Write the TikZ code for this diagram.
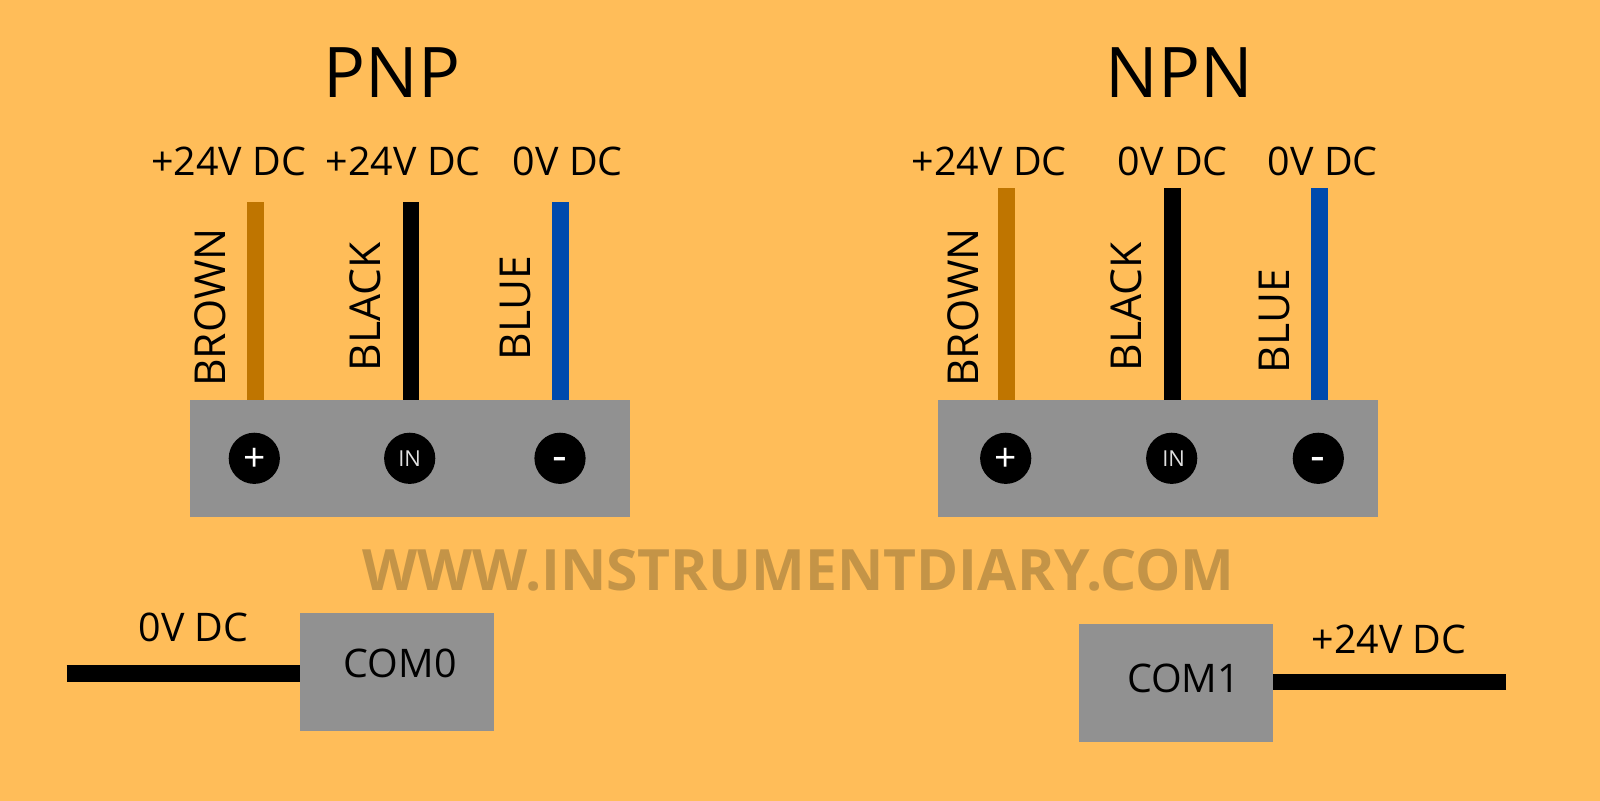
\documentclass[tikz,border=0pt]{standalone}
\usepackage{fontspec}
\setmainfont{Open Sans}
\definecolor{bgc}{HTML}{FFBD59}
\definecolor{greyc}{HTML}{919191}
\definecolor{brownc}{HTML}{BF7500}
\definecolor{bluec}{HTML}{004AAD}
\definecolor{markc}{HTML}{C49447}
\tikzset{
  blockbox/.style={fill=greyc,inner sep=0pt,outer sep=0pt,minimum width=#1},
  wire/.style={line width=8.4pt,line cap=butt},
  lbl/.style={anchor=base,inner sep=0pt,font=\fontsize{19.7}{22}\selectfont,text=black},
  vlbl/.style={lbl,rotate=90,font=\fontsize{21.3}{24}\selectfont},
  titlelbl/.style={anchor=base,inner sep=0pt,font=\fontsize{34.9}{40}\selectfont},
  term/.style={circle,fill=black,minimum size=25.6pt,inner sep=0pt,text=white,font=\fontsize{19.5}{22}\selectfont},
  termin/.style={term,text=white!88!black,font=\fontsize{11}{12}\selectfont},
  termminus/.style={term,font=\fontsize{23}{24}\selectfont},
}
\begin{document}
\begin{tikzpicture}[x=0.5pt,y=-0.5pt]
\fill[bgc,overlay] (-10,-10) rectangle (1610,810);
\useasboundingbox (0,0) rectangle (1600,800);
% titles
\node[titlelbl] (tpnp) at (392,97.5) {PNP};
\node[titlelbl] (tnpn) at (1179.6,97.5) {NPN};
% blocks
\node[blockbox=220pt,minimum height=58.5pt] (pnpbox) at (409.7,458.5) {};
\node[blockbox=220pt,minimum height=58.5pt] (npnbox) at (1158.2,458.5) {};
\node[blockbox=97pt,minimum height=59pt] (com0) at (396.7,672) {};
\node[blockbox=97pt,minimum height=59pt] (com1) at (1175.7,682.5) {};
% wire ends
\coordinate (p1) at (255.5,202);
\coordinate (p2) at (411,202);
\coordinate (p3) at (560.8,202);
\coordinate (n1) at (1006.7,188.3);
\coordinate (n2) at (1172.5,188.3);
\coordinate (n3) at (1319.2,188.3);
\coordinate (c0) at (66.7,673.2);
\coordinate (c1) at (1506,682);
% wires
\draw[wire,brownc] (p1) -- (p1 |- pnpbox.north);
\draw[wire,black] (p2) -- (p2 |- pnpbox.north);
\draw[wire,bluec] (p3) -- (p3 |- pnpbox.north);
\draw[wire,brownc] (n1) -- (n1 |- npnbox.north);
\draw[wire,black] (n2) -- (n2 |- npnbox.north);
\draw[wire,bluec] (n3) -- (n3 |- npnbox.north);
\draw[wire,black] (c0) -- (c0 -| com0.west);
\draw[wire,black] (c1) -- (c1 -| com1.east);
% supply labels
\node[lbl] (lp1) at (228.7,175) {+24V DC};
\node[lbl] (lp2) at (403.3,175) {+24V DC};
\node[lbl] (lp3) at (567.8,175) {0V DC};
\node[lbl] (ln1) at (989.3,175) {+24V DC};
\node[lbl] (ln2) at (1172.7,175) {0V DC};
\node[lbl] (ln3) at (1322.7,175) {0V DC};
% colour labels
\node[vlbl] (vp1) at (225,307.5) {BROWN};
\node[vlbl] (vp2) at (380,307) {BLACK};
\node[vlbl] (vp3) at (530.7,308) {BLUE};
\node[vlbl] (vn1) at (978.7,307.5) {BROWN};
\node[vlbl] (vn2) at (1141.3,307) {BLACK};
\node[vlbl] (vn3) at (1289.3,321) {BLUE};
% terminals
\node[term] (t1) at (254.3,458.3) {\smash{\raisebox{-6.6pt}{+}}};
\node[termin] (t2) at (409.7,458.3) {IN};
\node[termminus] (t3) at (560,458.3) {\smash{\raisebox{-6.7pt}{-}}};
\node[term] (t4) at (1005.7,458.3) {\smash{\raisebox{-6.6pt}{+}}};
\node[termin] (t5) at (1171.7,458.3) {\hspace{2pt}IN};
\node[termminus] (t6) at (1318.3,458.3) {\smash{\raisebox{-6.7pt}{-}}};
% com labels
\node[lbl] (l0v) at (193.7,641.2) {0V DC};
\node[lbl] (lc0) at (400.3,677.2) {COM0};
\node[lbl] (lc1) at (1183.6,692.5) {COM1};
\node[lbl] (l24) at (1389,653.5) {+24V DC};
% watermark
\node[anchor=base,inner sep=0pt,text=markc,font=\fontsize{28.5}{30}\selectfont\bfseries] (wm) at (798.5,590.5) {WWW.INSTRUMENTDIARY.COM};
\end{tikzpicture}
\end{document}
